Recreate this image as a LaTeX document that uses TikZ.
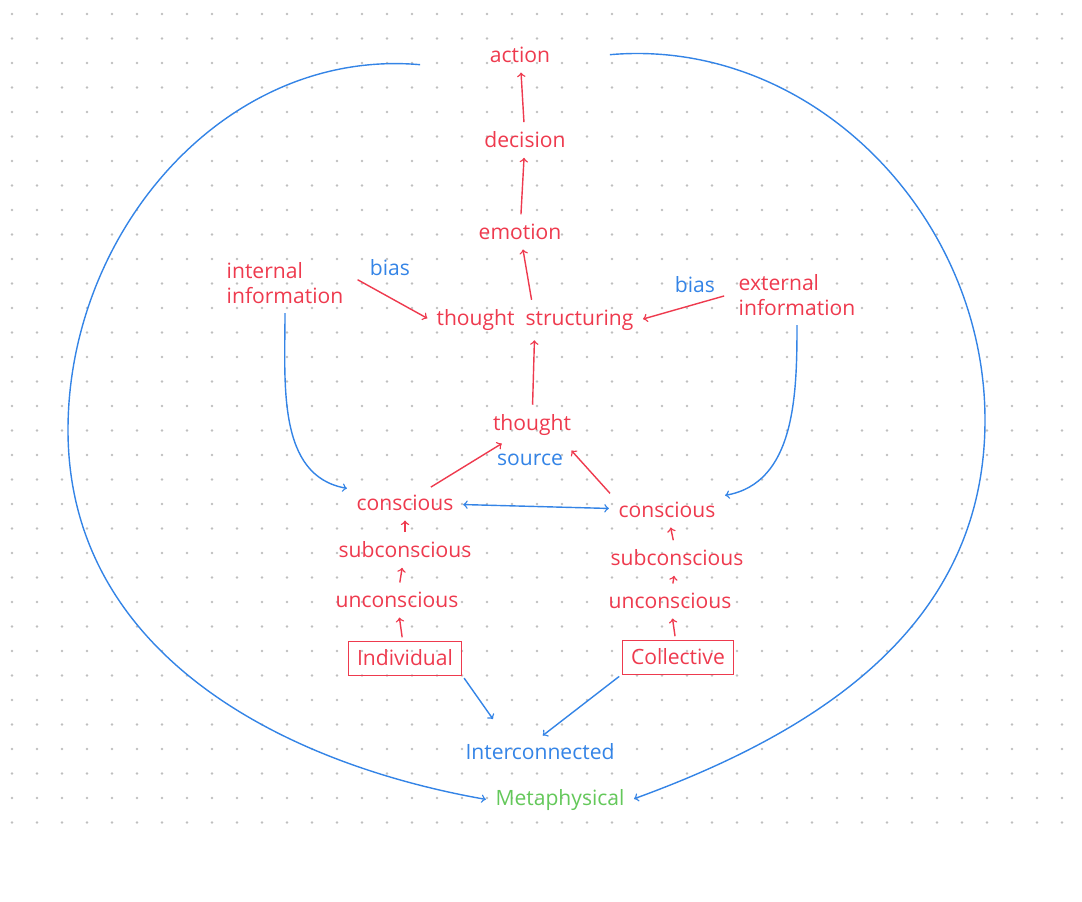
\documentclass[tikz,border=0pt]{standalone}
\usepackage{fontspec}
\setmainfont{Open Sans}
\usepackage{tikz}
\usetikzlibrary{positioning}
\definecolor{inkred}{RGB}{238,58,78}
\definecolor{inkblue}{RGB}{52,132,230}
\definecolor{inkgreen}{RGB}{100,200,90}
\tikzset{
  red/.style={text=inkred, font=\large},
  blue/.style={text=inkblue, font=\large},
  box/.style={red, draw=inkred, inner sep=5pt},
  up/.style={->, inkred, thick, shorten >=2pt, shorten <=2pt},
  link/.style={->, inkblue, thick, shorten >=2pt, shorten <=2pt}
}
\begin{document}
\begin{tikzpicture}[x=0.02cm, y=-0.02cm]
\useasboundingbox (0,0) rectangle (1082,902);
% dotted paper
\foreach \i in {0,...,43}
  \foreach \j in {0,...,33}
    \fill[black!25] (12+\i*25,14+\j*24.5) circle (0.8pt);

\node[red] (action) at (520,55) {action};
\node[red] (decision) at (525,140) {decision};
\node[red] (emotion) at (520,232) {emotion};
\node[red] (struct) at (535,320) {thought \ structuring};
\node[red, align=left] (intinfo) at (285,283) {internal\\information};
\node[red, align=left] (extinfo) at (797,295) {external\\information};
\node[blue] (biasL) at (390,268) {bias};
\node[blue] (biasR) at (695,285) {bias};
\node[red] (thought) at (532,425) {thought};
\node[blue] (source) at (530,460) {source};
\node[red] (consL) at (405,503) {conscious};
\node[red] (subL) at (405,550) {subconscious};
\node[red] (unL) at (397,600) {unconscious};
\node[box] (indiv) at (405,658) {Individual};
\node[red] (consR) at (667,510) {conscious};
\node[red] (subR) at (677,558) {subconscious};
\node[red] (unR) at (670,601) {unconscious};
\node[box] (coll) at (678,657) {Collective};
\node[blue] (inter) at (540,752) {Interconnected};
\node[text=inkgreen, font=\large] (meta) at (560,800) {Metaphysical};
\coordinate (farL) at (68,430);
\coordinate (farR) at (985,420);
\coordinate (interL) at (495,722);

\draw[up] (decision) -- (action);
\draw[up] (emotion) -- (decision);
\draw[up] (struct) -- (emotion);
\draw[up] (thought) -- (struct);
\draw[up] (consL) -- (thought);
\draw[up] (consR.north west) -- (source.north east);
\draw[up] (subL) -- (consL);
\draw[up] (unL) -- (subL);
\draw[up] (indiv) -- (unL);
\draw[up] (subR) -- (consR);
\draw[up] (unR) -- (subR);
\draw[up] (coll) -- (unR);
\draw[up] (intinfo.east) ++(5,-5) coordinate (iL) (iL) -- (struct.west);
\draw[up] (extinfo.west) ++(-5,0) coordinate (iR) (iR) -- (struct.east);

\draw[link, <->] (consL) -- (consR);
\draw[link] (intinfo.south) to[out=-90, in=170] (consL.north west);
\draw[link] (extinfo.south) to[out=-90, in=10] (consR.north east);
\draw[link] (indiv.south east) -- (interL);
\draw[link] (coll.south west) -- (inter.north);
\draw[link] (action.west) ++(-60,10) to[out=175, in=90] (farL) to[out=-90, in=170] (meta.west);
\draw[link] (action.east) ++(50,0) to[out=5, in=90] (farR) to[out=-90, in=20] (meta.east);
\end{tikzpicture}
\end{document}
